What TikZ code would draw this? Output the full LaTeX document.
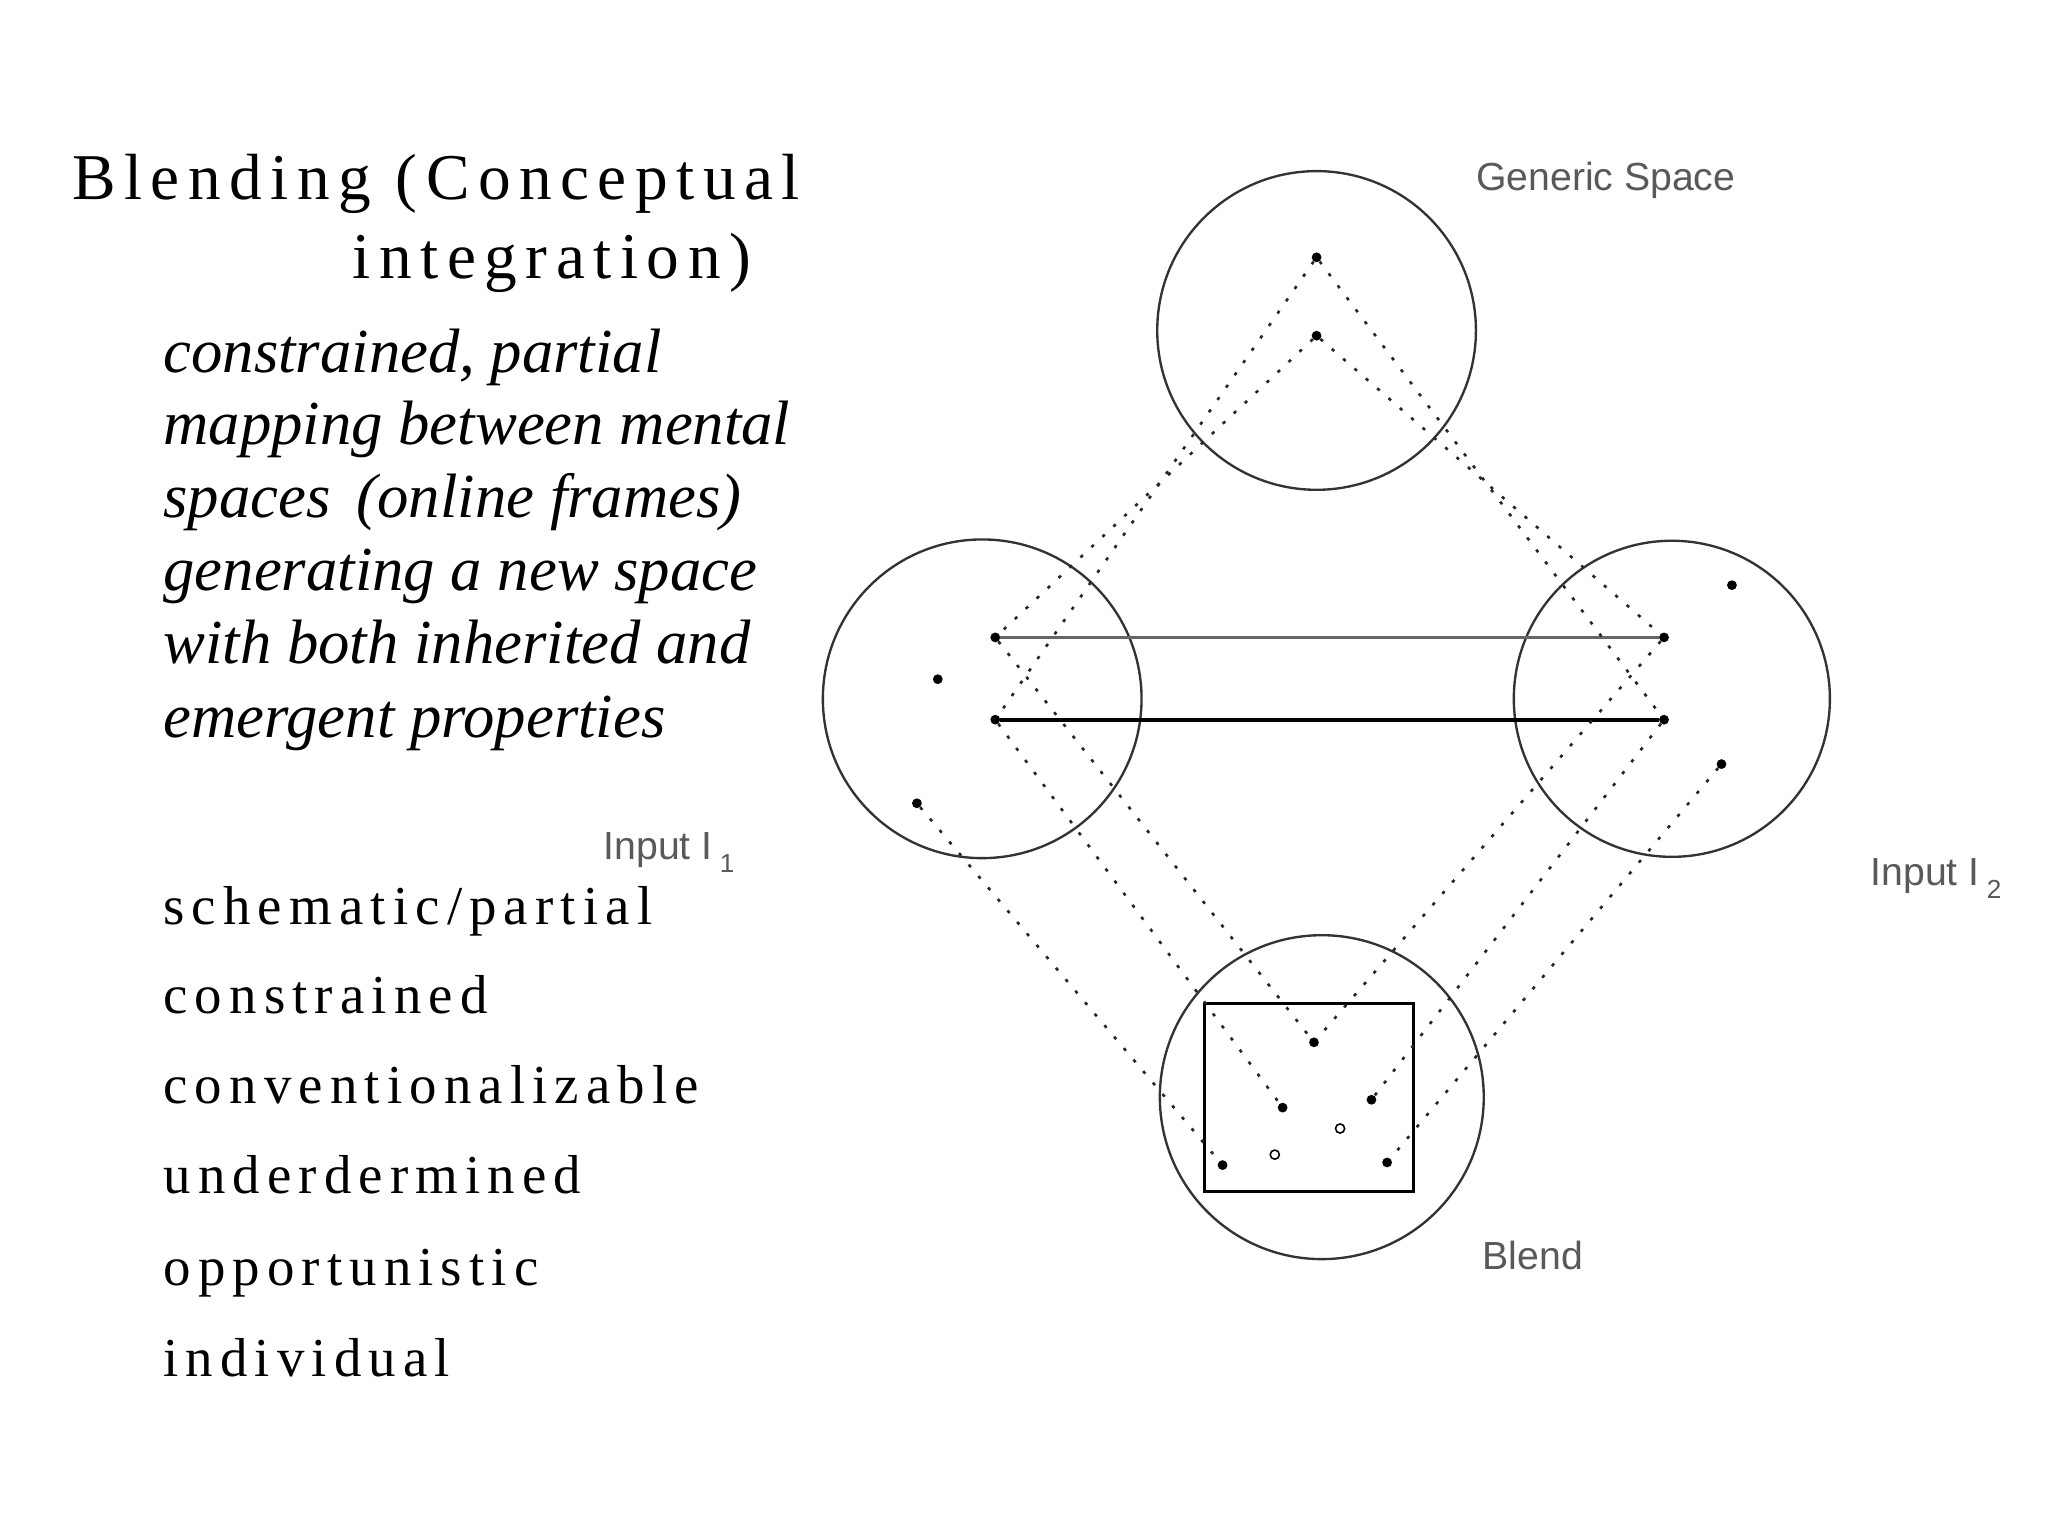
\documentclass[tikz,border=0pt]{standalone}
\usepackage{fontspec}
\setmainfont{Liberation Serif}
\newfontfamily\spaced[LetterSpace=13]{Liberation Serif}
\newfontfamily\lblfont{Liberation Sans}
\begin{document}
\begin{tikzpicture}[x=1pt,y=-1pt,
  sp/.style={draw=black!80,line width=1.8pt},
  dt/.style={fill=black,circle,inner sep=0pt,minimum size=7.5pt},
  od/.style={draw=black,circle,inner sep=0pt,minimum size=7pt,line width=1.2pt},
  dl/.style={draw=black!85,line width=2pt,dash pattern=on 2.5pt off 9pt},
  lbl/.style={font=\lblfont\fontsize{30}{32}\selectfont,text=black!65,anchor=base west,inner sep=0pt},
  ttl/.style={font=\spaced\fontsize{50}{56}\selectfont,anchor=base west,inner sep=0pt},
  it/.style={font=\itshape\fontsize{48}{54}\selectfont,anchor=base west,inner sep=0pt},
  li/.style={font=\spaced\fontsize{42}{48}\selectfont,anchor=base west,inner sep=0pt}]
\useasboundingbox (0,0) rectangle (1568,1176);
% circles
\node[sp,circle,minimum size=244pt] (G) at (1008,253) {};
\node[sp,circle,minimum size=244pt] (I1) at (752,535) {};
\node[sp,circle,minimum size=242pt] (I2) at (1280,535) {};
\node[sp,circle,minimum size=248pt] (B) at (1012,840) {};
\node[draw,line width=2.2pt,minimum width=160pt,minimum height=144pt,inner sep=0pt] (sq) at (1002,840) {};
% points
\node[dt] (g1) at (1008,197) {};
\node[dt] (g2) at (1008,257) {};
\node[dt] (a1) at (762,488) {};
\node[dt] (a2) at (762,551) {};
\node[dt] (a3) at (718,520) {};
\node[dt] (a4) at (702,615) {};
\node[dt] (b1) at (1274,488) {};
\node[dt] (b2) at (1274,551) {};
\node[dt] (b3) at (1326,448) {};
\node[dt] (b4) at (1318,585) {};
\node[dt] (c1) at (1006,798) {};
\node[dt] (c2) at (982,848) {};
\node[dt] (c3) at (1050,842) {};
\node[dt] (c4) at (936,892) {};
\node[dt] (c5) at (1062,890) {};
\node[od] (o1) at (976,884) {};
\node[od] (o2) at (1026,864) {};
% solid counterpart lines
\draw[draw=black!60,line width=2.2pt] (a1) -- (b1);
\draw[line width=3.2pt] (a2) -- (b2);
% dotted projections
\draw[dl] (g1) -- (a2);
\draw[dl] (g2) -- (a1);
\draw[dl] (g1) -- (b2);
\draw[dl] (g2) -- (b1);
\draw[dl] (a4) -- (c4);
\draw[dl] (a2) -- (c2);
\draw[dl] (a1) -- (c1);
\draw[dl] (b4) -- (c5);
\draw[dl] (b2) -- (c3);
\draw[dl] (b1) -- (c1);
% labels
\node[lbl] (lg) at (1130,146) {Generic Space};
\node[lbl] (l1) at (462,658) {Input I\raisebox{-10pt}{\fontsize{20}{20}\selectfont\ 1}};
\node[lbl] (l2) at (1432,678) {Input I\raisebox{-10pt}{\fontsize{20}{20}\selectfont\ 2}};
\node[lbl] (lb) at (1135,972) {Blend};
% text
\node[ttl] (t1) at (55,153) {Blending (Conceptual};
\node[ttl] (t2) at (270,213) {integration)};
\node[it] (i1) at (125,285) {constrained, partial};
\node[it] (i2) at (125,340) {mapping between mental};
\node[it] (i3) at (125,396) {spaces\, (online frames)};
\node[it] (i4) at (125,452) {generating a new space};
\node[it] (i5) at (125,508) {with both inherited and};
\node[it] (i6) at (125,565) {emergent properties};
\node[li] (s1) at (125,708) {schematic/partial};
\node[li] (s2) at (125,776) {constrained};
\node[li] (s3) at (125,845) {conventionalizable};
\node[li] (s4) at (125,914) {underdermined};
\node[li] (s5) at (125,984) {opportunistic};
\node[li] (s6) at (125,1054) {individual};
\end{tikzpicture}
\end{document}
